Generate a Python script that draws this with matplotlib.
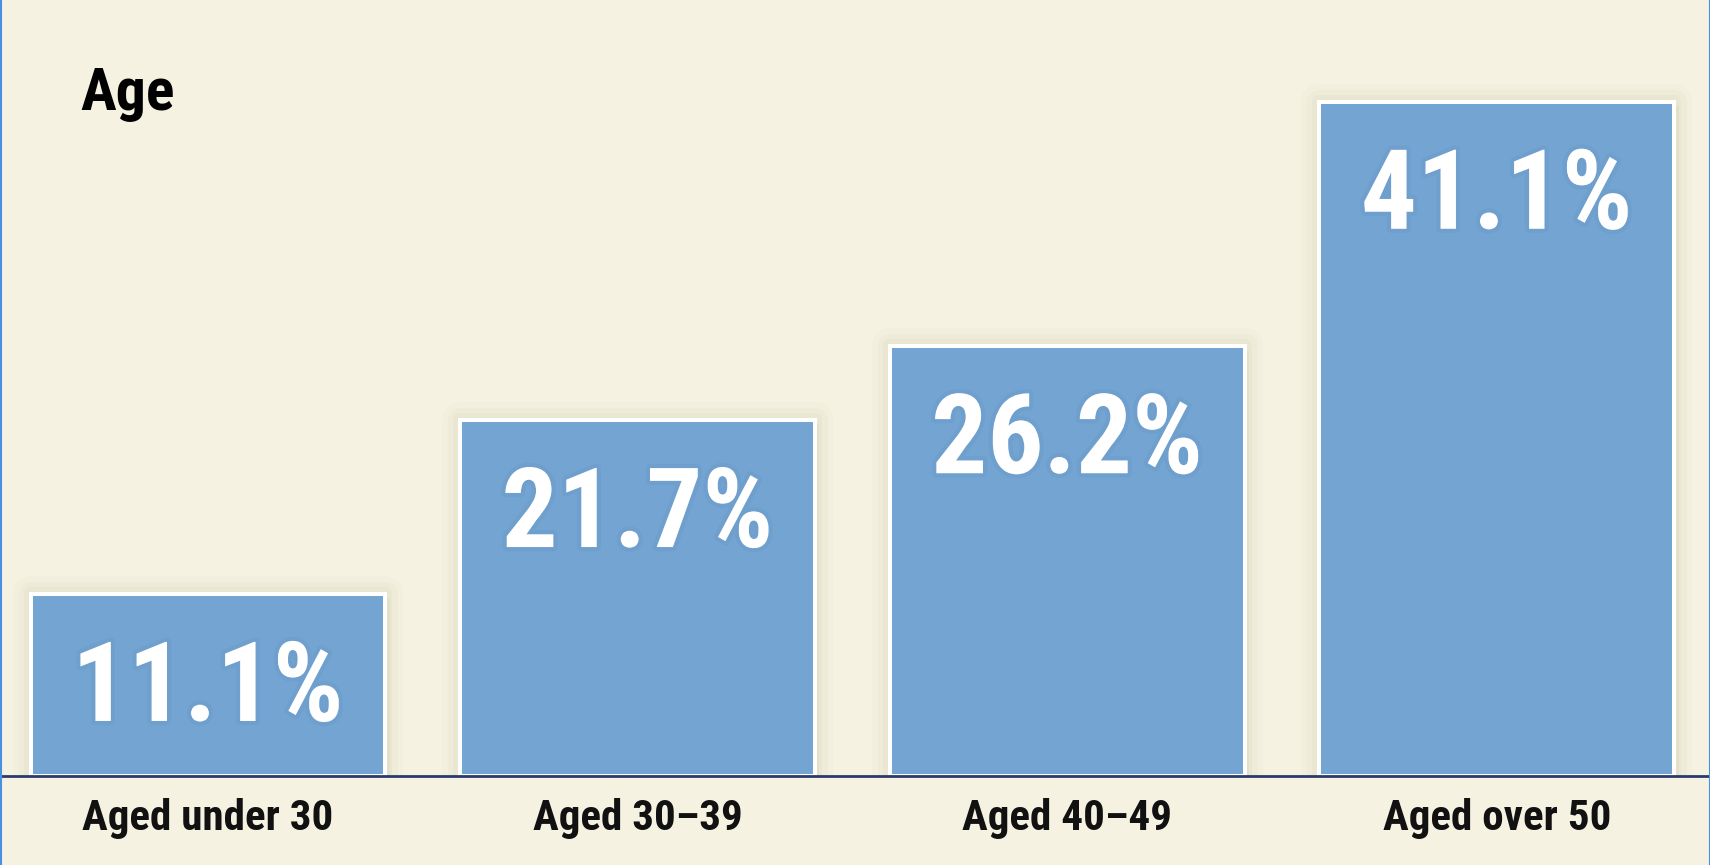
import matplotlib
matplotlib.use("Agg")
import matplotlib.pyplot as plt
import matplotlib.patheffects as pe
from matplotlib import font_manager

categories = ["Aged under 30", "Aged 30\u201339", "Aged 40\u201349", "Aged over 50"]
values = [11.1, 21.7, 26.2, 41.1]
value_labels = ["11.1%", "21.7%", "26.2%", "41.1%"]
title = "Age"

BG = "#F5F2E2"
BAR = "#73A4D2"

available = {f.name for f in font_manager.fontManager.ttflist}
prefs = ["Liberation Sans Narrow", "DejaVu Sans Condensed", "Roboto Condensed",
         "Open Sans Condensed", "Roboto", "Liberation Sans", "DejaVu Sans"]
main_font = next(f for f in prefs if f in available)
FONT = [main_font, "DejaVu Sans"]

fig = plt.figure(figsize=(17.10, 8.65), dpi=100, facecolor=BG)
renderer = fig.canvas.get_renderer()


def fit_size(s, target_px, weight="bold"):
    t = fig.text(0, 0, s, fontsize=100, family=FONT, fontweight=weight)
    w = t.get_window_extent(renderer).width
    t.remove()
    return 100 * target_px / w


val_size = min(fit_size("11.1%", 272), 81)
lab_size = min(fit_size("Aged under 30", 258), 31)
title_size = min(fit_size("Age", 97), 43)

ax = fig.add_axes([0, 89 / 865, 1, 776 / 865])
ax.set_facecolor(BG)

x = list(range(len(categories)))
bars = ax.bar(x, values, width=0.826, color=BAR, edgecolor="white",
              linewidth=2.9, zorder=3)
for b in bars:
    b.set_path_effects([
        pe.Stroke(linewidth=26, foreground="#E2DCC3", alpha=0.12, joinstyle="round"),
        pe.Stroke(linewidth=18, foreground="#DCD6BC", alpha=0.14, joinstyle="round"),
        pe.Stroke(linewidth=10, foreground="#D6D0B5", alpha=0.18, joinstyle="round"),
        pe.SimplePatchShadow(offset=(3, -3), shadow_rgbFace="#DAD4BA", alpha=0.35),
        pe.Normal(),
    ])

ax.set_xlim(-0.484, 3.496)
ax.set_ylim(0, 47.3)

for xi, v, lab in zip(x, values, value_labels):
    ax.annotate(lab, xy=(xi, v), xytext=(0, -31), textcoords="offset points",
                ha="center", va="top", color="white", fontsize=val_size,
                fontweight="bold", family=FONT, zorder=5,
                path_effects=[pe.withStroke(linewidth=6, foreground="#6594C4", alpha=0.3)])

ax.axhline(0, color="#2B3A6B", linewidth=2, zorder=6, clip_on=False)

ax.set_xticks(x)
ax.set_xticklabels(categories, fontsize=lab_size, fontweight="bold", family=FONT, color="#111111")
ax.tick_params(axis="x", length=0, pad=16)
ax.set_yticks([])
for s in ax.spines.values():
    s.set_visible(False)

fig.text(80 / 1710, 1 - 110 / 865, title, fontsize=title_size, fontweight="bold",
         family=FONT, color="black", ha="left", va="baseline")

fig.add_artist(plt.Line2D([0.5 / 1710, 0.5 / 1710], [0, 1], color="#4A90E2", linewidth=1.5,
                          transform=fig.transFigure))
fig.add_artist(plt.Line2D([1 - 0.5 / 1710, 1 - 0.5 / 1710], [0, 1], color="#4A90E2", linewidth=1.5,
                          transform=fig.transFigure))

fig.savefig("out.png", dpi=100, facecolor=BG)
